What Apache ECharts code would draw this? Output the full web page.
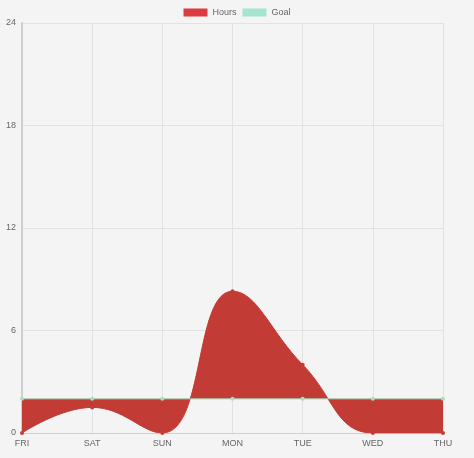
<!DOCTYPE html>
<html><head><meta charset="utf-8">
<script src="https://cdn.jsdelivr.net/npm/echarts@6/dist/echarts.min.js"></script>
<style>html,body{margin:0;padding:0;background:#f4f4f4;}#c{width:474px;height:458px;}</style>
</head><body><div id="c"></div>
<script>
const categories = ['FRI','SAT','SUN','MON','TUE','WED','THU'];
const hours = [0, 1.5, 0, 8.3, 4, 0, 0];
const goal = [2, 2, 2, 2, 2, 2, 2];
const goalLevel = 2;
const yTicks = [0, 6, 12, 18, 24];

const chart = echarts.init(document.getElementById('c'), null, {renderer:'canvas'});
chart.setOption({
  backgroundColor: '#f4f4f4',
  animation: false,
  legend: {
    top: 3, left: 'center', itemWidth: 24, itemHeight: 8, itemGap: 6,
    textStyle: {color: '#666', fontSize: 9, fontFamily: 'Helvetica, Arial, "Liberation Sans", sans-serif'},
    data: [
      {name: 'Hours', icon: 'rect', itemStyle: {color: '#dc3d43', borderWidth: 0}},
      {name: 'Goal', icon: 'rect', itemStyle: {color: '#a6e6cf', borderWidth: 0}}
    ]
  },
  grid: {left: 22, right: 31, top: 23, bottom: 25, containLabel: false},
  xAxis: {
    type: 'category', data: categories, boundaryGap: false,
    axisLine: {show: true, lineStyle: {color: '#cfcfcf', width: 1}},
    axisTick: {show: false},
    axisLabel: {color: '#666', fontSize: 9, margin: 6, fontFamily: 'Helvetica, Arial, "Liberation Sans", sans-serif'},
    splitLine: {show: true, lineStyle: {color: '#e2e2e2', width: 1}}
  },
  yAxis: {
    type: 'value', min: yTicks[0], max: yTicks[yTicks.length-1], interval: 6,
    axisLine: {show: true, lineStyle: {color: '#cfcfcf', width: 2}},
    axisTick: {show: false},
    axisLabel: {color: '#666', fontSize: 9, margin: 6, fontFamily: 'Helvetica, Arial, "Liberation Sans", sans-serif'},
    splitLine: {show: true, lineStyle: {color: '#e2e2e2', width: 1}}
  },
  series: [
    {
      name: 'Hours', type: 'line', data: hours, smooth: 0.45,
      symbol: 'circle', symbolSize: 4,
      itemStyle: {color: '#c63b36'},
      lineStyle: {color: '#c63b36', width: 1},
      areaStyle: {color: '#c23b35', opacity: 1, origin: goalLevel},
      z: 2
    },
    {
      name: 'Goal', type: 'line', data: goal,
      symbol: 'circle', symbolSize: 4,
      itemStyle: {color: '#a6e0c4'},
      lineStyle: {color: '#9fcfb5', width: 1},
      z: 3
    }
  ]
});
</script></body></html>
